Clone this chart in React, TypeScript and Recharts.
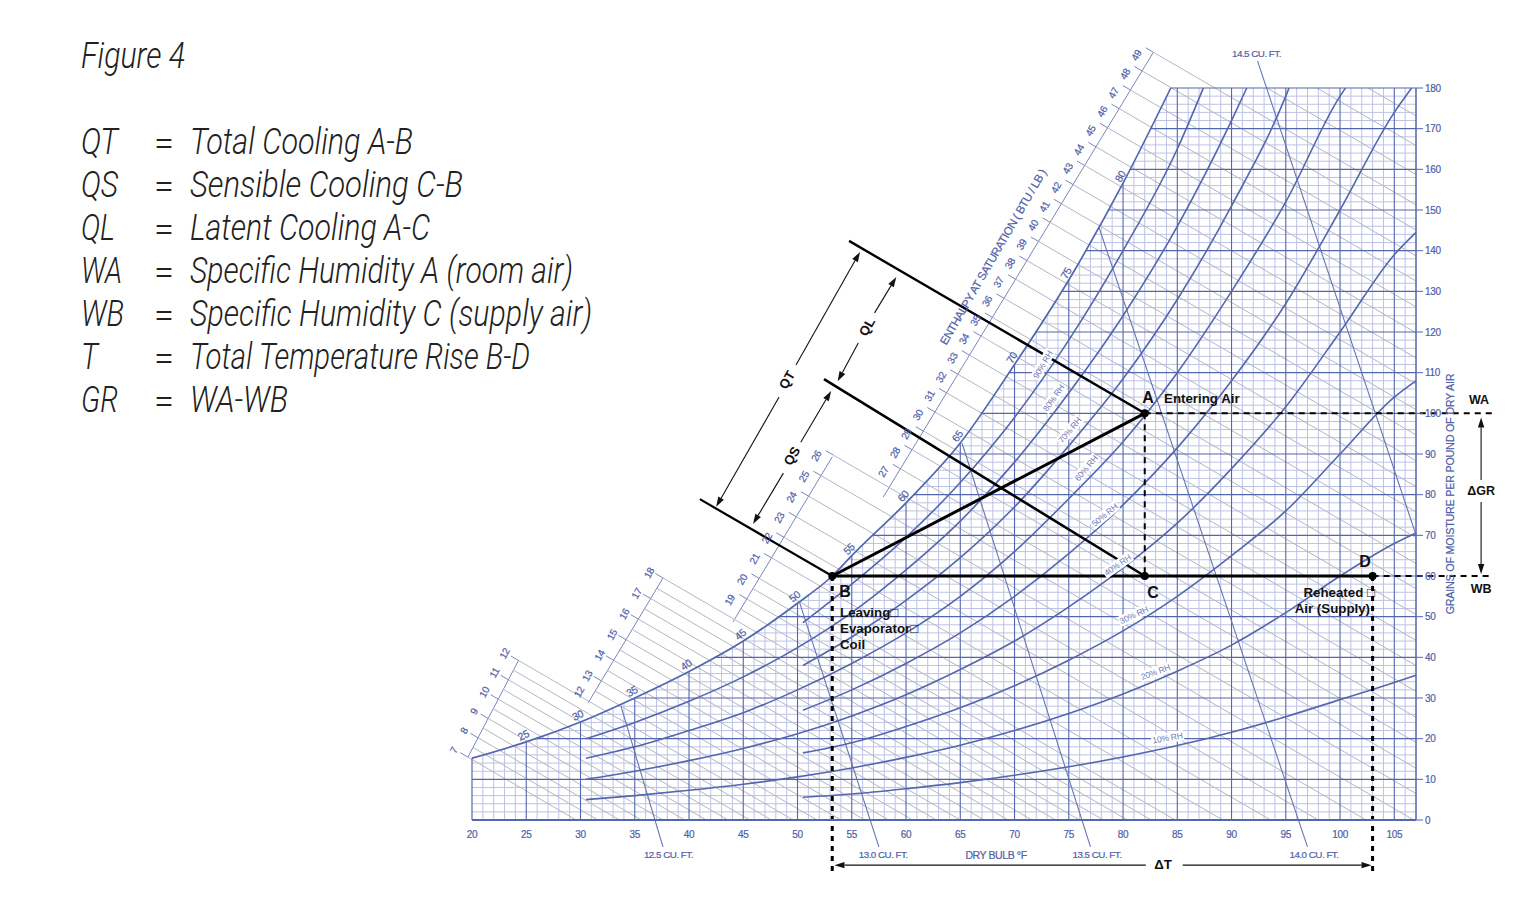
import React from "react";
import {
  Line,
  LineChart,
  ReferenceDot,
  ReferenceLine,
  XAxis,
  YAxis,
} from "recharts";

const BLUE = "#5466ae";
const TEXT_BLUE = "#4f60a8";
const MINOR = "#bcc3e6";
const GRAY = "#b4b6c4";
const SANS = "'Liberation Sans', 'DejaVu Sans', sans-serif";

// axes
const dryBulbTicks = [20, 25, 30, 35, 40, 45, 50, 55, 60, 65, 70, 75, 80, 85, 90, 95, 100, 105];
const topTicks = [85, 90, 95, 100, 105];
const grainTicks = [0, 10, 20, 30, 40, 50, 60, 70, 80, 90, 100, 110, 120, 130, 140, 150, 160, 170, 180];

// saturation curve
const satT = [20, 25, 30, 35, 40, 45, 50, 53.2, 55, 60, 65, 70, 75, 80, 84.4];
const satW = [15.2, 19.2, 24.1, 30, 36.5, 44, 53.3, 60, 65, 78, 92.7, 112, 132.8, 156.6, 180];
const satLabelT = [25, 30, 35, 40, 45, 50, 55, 60, 65, 70, 75, 80];
const satLabelAngle = [-25, -25, -30, -35, -40, -40, -45, -50, -55, -60, -60, -60];

// relative humidity curves [dry bulb, grains]
const rh90 = [[50.5, 48.5], [55, 58], [60, 69.5], [65, 83], [70, 99], [75, 118], [80, 140], [85, 165], [87.4, 180]];
const rh80 = [[30.5, 20], [35, 24], [40, 29.2], [45, 35.2], [50, 42.4], [55, 51], [60, 61.5], [65, 73.5], [70, 88], [75, 105], [80, 124], [85, 146], [90, 172], [91.4, 180]];
const rh70 = [[50.5, 38], [55, 45], [60, 54], [65, 64.5], [70, 77], [75, 92], [80, 108.5], [85, 128], [90, 151], [95, 178], [95.3, 180]];
const rh60 = [[30.5, 15.2], [35, 18], [40, 22], [45, 26.4], [50, 32], [55, 38.5], [60, 46], [65, 55], [70, 66], [75, 79], [80, 93], [85, 110], [90, 130], [95, 152], [100, 178], [100.5, 180]];
const rh50 = [[50.5, 27], [55, 32], [60, 38.5], [65, 46], [70, 55], [75, 65.5], [80, 77.5], [85, 91.5], [90, 108], [95, 127], [100, 150], [105, 174], [106.6, 180]];
const rh40 = [[30.5, 10], [35, 12], [40, 14.6], [45, 17.6], [50, 21.2], [55, 25.6], [60, 30.8], [65, 37], [70, 44], [75, 52.4], [80, 62], [85, 73], [90, 86.4], [95, 101.6], [100, 120], [105, 139], [107, 144.5]];
const rh30 = [[50.5, 16.5], [55, 19], [60, 23], [65, 27.6], [70, 33], [75, 39.3], [80, 46.5], [85, 55], [90, 65], [95, 76], [100, 90], [105, 104], [107, 108]];
const rh20 = [[30.5, 5], [35, 6], [40, 7.3], [45, 8.8], [50, 10.6], [55, 12.8], [60, 15.4], [65, 18.4], [70, 22], [75, 26.2], [80, 31], [85, 36.6], [90, 43], [95, 51], [100, 60], [105, 68], [107, 70.6]];
const rh10 = [[50.5, 5.6], [55, 6.4], [60, 7.7], [65, 9.2], [70, 11], [75, 13.1], [80, 15.5], [85, 18.3], [90, 21.6], [95, 25.4], [100, 29.6], [105, 33.8], [107, 35.6]];
const rhCurves = [rh90, rh80, rh70, rh60, rh50, rh40, rh30, rh20, rh10];

const rhLabels = ["90% RH", "80% RH", "70% RH", "60% RH", "50% RH", "40% RH", "30% RH", "20% RH", "10% RH"];
const rhLabelT = [72.6, 73.6, 75.1, 76.6, 78.3, 79.5, 81, 83, 84.1];
const rhLabelW = [112, 103.8, 95.9, 86.5, 75, 62.7, 50.4, 36.4, 20.2];
const rhLabelAngle = [-60, -55, -50, -50, -40, -35, -25, -20, -10];

// enthalpy lines: the dry bulb where each line would reach zero grains
const enthalpyValues = [7, 7.5, 8, 8.5, 9, 9.5, 10, 10.5, 11, 11.5, 12, 12.5, 13, 13.5, 14, 14.5, 15, 15.5, 16, 16.5, 17, 17.5, 18, 18.5, 19, 19.5, 20, 21, 22, 23, 24, 25, 26, 27, 28, 29, 30, 31, 32, 33, 34, 35, 36, 37, 38, 39, 40, 41, 42, 43, 44, 45, 46, 47, 48, 49];
const enthalpyFoot = [29.6, 31.6, 33.6, 35.6, 37.6, 39.6, 41.6, 43.6, 45.6, 47.6, 49.6, 51.8, 54, 56.2, 58.4, 60.6, 62.8, 65, 67.2, 69.4, 71.6, 73.8, 76, 78.2, 80.4, 82.6, 84.8, 89.2, 93.6, 98, 102.4, 106.8, 111.2, 115.2, 119.3, 123.3, 127.4, 131.5, 135.5, 139.6, 143.7, 147.7, 151.8, 155.9, 159.9, 164, 168.1, 172.1, 176.2, 180.3, 184.3, 188.4, 192.5, 196.5, 200.6, 204.6];
const unlabelledFoot = [209.4, 214, 218.7];
const ENTHALPY_SLOPE = 1.55;

// the four stretches of the enthalpy scale [last value, T from, w from, T to, w to, label dx, label dy]
const enthalpyScales = [
  [12, 19.63, 15.5, 24.3, 39.3, -14, -7],
  [18, 30.7, 28.8, 37.6, 59.5, -14, -5],
  [26, 44.05, 48.7, 53.2, 89.3, -17, 1],
  [49, 57.9, 79.4, 82.8, 188.8, -17, 3],
];

// specific volume lines [T, w, T, w]
const volumeLines = [
  [33.73, 28, 37.6, -6.6],
  [50.2, 53.4, 57.5, -6.6],
  [65.16, 92.7, 77, -6.6],
  [77.8, 145.6, 97, -6.6],
  [92.4, 186.6, 107, 70.1],
];
const volumeLabels = ["12.5 CU. FT.", "13.0 CU. FT.", "13.5 CU. FT.", "14.0 CU. FT.", "14.5 CU. FT."];
const volumeLabelT = [38.1, 57.9, 77.6, 97.6, 92.3];
const volumeLabelW = [-8.6, -8.6, -8.6, -8.6, 188.6];

// process points
const A = { x: 82, y: 100 };
const B = { x: 53.2, y: 60 };
const C = { x: 82, y: 60 };
const D = { x: 103, y: 60 };

const formulaSymbols = ["QT", "QS", "QL", "WA", "WB", "T", "GR"];
const symbolWidths = [37, 37, 34, 41, 43, 17, 37];
const formulaTexts = [
  "Total Cooling A-B",
  "Sensible Cooling C-B",
  "Latent Cooling A-C",
  "Specific Humidity A (room air)",
  "Specific Humidity C (supply air)",
  "Total Temperature Rise B-D",
  "WA-WB",
];
const textWidths = [223, 273, 240, 383, 402, 340, 98];

const tOf = (px: number) => 20 + (px - 472) / 10.85;
const wOf = (py: number) => (820 - py) / 4.067;

const toPoints = (rows: number[][]) => rows.map(([T, w]) => ({ T, w }));

const satAt = (T: number) => {
  for (let i = 1; i < satT.length; i++) {
    if (T <= satT[i]) {
      const f = (T - satT[i - 1]) / (satT[i] - satT[i - 1]);
      return satW[i - 1] + f * (satW[i] - satW[i - 1]);
    }
  }
  return 180;
};
const satInverse = (w: number) => {
  for (let i = 1; i < satW.length; i++) {
    if (w <= satW[i]) {
      const f = (w - satW[i - 1]) / (satW[i] - satW[i - 1]);
      return satT[i - 1] + f * (satT[i] - satT[i - 1]);
    }
  }
  return satT[satT.length - 1];
};

const range = (a: number, b: number, step: number) => {
  const out: number[] = [];
  for (let v = a; v <= b; v += step) out.push(v);
  return out;
};

const scaleFor = (h: number) => enthalpyScales.find((s) => h <= s[0]) as number[];
const scalePoint = (h: number, foot: number) => {
  const [, Ta, wa, Tb, wb] = scaleFor(h);
  const m = (wb - wa) / (Tb - Ta);
  const T = (ENTHALPY_SLOPE * foot - wa + m * Ta) / (m + ENTHALPY_SLOPE);
  return { x: T, y: ENTHALPY_SLOPE * (foot - T) };
};
const lineEnd = (foot: number) =>
  foot > 107 ? { x: 107, y: ENTHALPY_SLOPE * (foot - 107) } : { x: foot, y: 0 };

type NoteOpts = {
  size?: number;
  color?: string;
  weight?: number | string;
  angle?: number;
  anchor?: "start" | "middle" | "end";
  spacing?: number;
  patch?: boolean;
  dx?: number;
  dy?: number;
  stroke?: number;
};

// a piece of text pinned to a point of the chart
const note = (key: string, x: number, y: number, text: string, o: NoteOpts = {}) => (
  <ReferenceDot
    key={key}
    x={x}
    y={y}
    r={0}
    ifOverflow="visible"
    shape={(p: any) => {
      const px = p.cx + (o.dx ?? 0);
      const py = p.cy + (o.dy ?? 0);
      const w = text.length * (o.size ?? 9) * 0.52;
      const h = (o.size ?? 9) + 2;
      return (
        <g transform={`rotate(${o.angle ?? 0} ${px} ${py})`}>
          {o.patch && <rect x={px - w / 2 - 3} y={py - h / 2} width={w + 6} height={h} fill="#fff" />}
          <text
            x={px}
            y={py}
            textAnchor={o.anchor ?? "middle"}
            dominantBaseline="central"
            fontFamily={SANS}
            fontSize={o.size ?? 10}
            fontWeight={o.weight ?? "normal"}
            letterSpacing={o.spacing ?? 0}
            fill={o.color ?? TEXT_BLUE}
            stroke={o.stroke ? o.color ?? TEXT_BLUE : "none"}
            strokeWidth={o.stroke ?? 0}
          >
            {text}
          </text>
        </g>
      );
    }}
  />
);

const seg = (key: string, a: any, b: any, stroke: string, width: number, dash?: string) => (
  <ReferenceLine
    key={key}
    segment={[a, b]}
    ifOverflow="visible"
    stroke={stroke}
    strokeWidth={width}
    strokeDasharray={dash}
  />
);

const ArrowLine = (p: any) => {
  const ang = Math.atan2(p.y2 - p.y1, p.x2 - p.x1);
  const l = 10;
  const s = 3.2;
  const bx = p.x2 - l * Math.cos(ang);
  const by = p.y2 - l * Math.sin(ang);
  const nx = -Math.sin(ang) * s;
  const ny = Math.cos(ang) * s;
  return (
    <g>
      <line x1={p.x1} y1={p.y1} x2={bx} y2={by} stroke="#111" strokeWidth={1.1} />
      <polygon points={`${p.x2},${p.y2} ${bx + nx},${by + ny} ${bx - nx},${by - ny}`} fill="#111" />
    </g>
  );
};

const arrow = (key: string, a: number[], b: number[]) => (
  <ReferenceLine
    key={key}
    segment={[{ x: a[0], y: a[1] }, { x: b[0], y: b[1] }]}
    ifOverflow="visible"
    shape={ArrowLine}
  />
);

const Dot = (p: any) => <circle cx={p.cx} cy={p.cy} r={4} fill="#000" />;

const blueTick = {
  fill: TEXT_BLUE,
  fontSize: 10,
  fontFamily: SANS,
  letterSpacing: -0.3,
  stroke: TEXT_BLUE,
  strokeWidth: 0.2,
};
const blackLabel: NoteOpts = { size: 13.3, weight: "bold", color: "#111" };
const letterLabel: NoteOpts = { size: 16, weight: "bold", color: "#111" };

const App = () => {
  const minorT = range(21, 106, 1).filter((t) => t % 5 !== 0);
  const minorW = range(2, 178, 2).filter((w) => w % 10 !== 0);
  const majorT = dryBulbTicks.slice(1);
  const majorW = grainTicks.slice(1, -1);

  return (
    <div style={{ position: "absolute", left: 0, top: 0, width: 1536, height: 898, background: "#fff" }}>
      <LineChart width={1536} height={898} margin={{ left: 472, right: 80, top: 68, bottom: 48 }}>
        <XAxis
          dataKey="T"
          type="number"
          domain={[20, 107]}
          ticks={dryBulbTicks}
          interval={0}
          height={30}
          tickLine={false}
          tickMargin={5}
          axisLine={{ stroke: BLUE, strokeWidth: 2 }}
          tick={blueTick}
        />
        <XAxis
          xAxisId="top"
          orientation="top"
          type="number"
          domain={[20, 107]}
          ticks={topTicks}
          interval={0}
          height={20}
          tickLine={false}
          axisLine={false}
          tickMargin={2}
          tick={blueTick}
        />
        <YAxis
          orientation="right"
          type="number"
          domain={[0, 180]}
          ticks={grainTicks}
          interval={0}
          width={40}
          tickSize={7}
          tickMargin={2}
          axisLine={{ stroke: BLUE, strokeWidth: 1.5 }}
          tickLine={{ stroke: BLUE }}
          tick={blueTick}
        />

        {/* fine grid first, the enthalpy lines run over it */}
        {minorT.map((t) => seg(`mt-${t}`, { x: t, y: 0 }, { x: t, y: Math.min(satAt(t), 180) }, MINOR, 1))}
        {minorW.map((w) => seg(`mw-${w}`, { x: Math.max(satInverse(w), 20), y: w }, { x: 107, y: w }, MINOR, 1))}

        {/* enthalpy scale and lines */}
        {enthalpyScales.map((s, i) =>
          seg(`scale-${i}`, { x: s[1], y: s[2] }, { x: s[3], y: s[4] }, "#7a86bd", 1)
        )}
        {enthalpyValues.map((h, i) =>
          seg(`enth-${h}`, scalePoint(h, enthalpyFoot[i]), lineEnd(enthalpyFoot[i]), GRAY, 1)
        )}
        {unlabelledFoot.map((f) =>
          seg(`enth-top-${f}`, { x: f - 180 / ENTHALPY_SLOPE, y: 180 }, lineEnd(f), GRAY, 1)
        )}
        {enthalpyValues
          .filter((h) => Number.isInteger(h))
          .map((h) => {
            const foot = enthalpyFoot[enthalpyValues.indexOf(h)];
            const p = scalePoint(h, foot);
            return seg(`tick-${h}`, p, { x: p.x - 0.7, y: p.y + 0.7 * ENTHALPY_SLOPE }, "#7a86bd", 1);
          })}

        {/* heavy grid */}
        {majorT.map((t) => seg(`jt-${t}`, { x: t, y: 0 }, { x: t, y: Math.min(satAt(t), 180) }, BLUE, 1.1))}
        {majorW.map((w) => seg(`jw-${w}`, { x: Math.max(satInverse(w), 20), y: w }, { x: 107, y: w }, BLUE, 1.1))}
        {seg("left", { x: 20, y: 0 }, { x: 20, y: satW[0] }, BLUE, 1.2)}
        {seg("top", { x: 84.4, y: 180 }, { x: 107, y: 180 }, BLUE, 1.2)}

        {/* specific volume */}
        {volumeLines.map((v, i) => seg(`vol-${i}`, { x: v[0], y: v[1] }, { x: v[2], y: v[3] }, "#6674b2", 1.1))}

        {/* saturation and RH curves */}
        <Line
          data={satT.map((T, i) => ({ T, w: satW[i] }))}
          dataKey="w"
          type="monotone"
          dot={false}
          stroke={BLUE}
          strokeWidth={1.7}
          isAnimationActive={false}
        />
        {rhCurves.map((rows, i) => (
          <Line
            key={rhLabels[i]}
            data={toPoints(rows)}
            dataKey="w"
            type="monotone"
            dot={false}
            stroke={BLUE}
            strokeWidth={1.6}
            isAnimationActive={false}
          />
        ))}

        {/* blue labels */}
        {satLabelT.map((t, i) =>
          note(`sat-${t}`, t, satAt(t), String(t), { angle: satLabelAngle[i], dx: -3, dy: -7, size: 10.5, spacing: -0.3, stroke: 0.2 })
        )}
        {enthalpyValues
          .filter((h) => Number.isInteger(h))
          .map((h) => {
            const p = scalePoint(h, enthalpyFoot[enthalpyValues.indexOf(h)]);
            const s = scaleFor(h);
            return note(`h-${h}`, p.x, p.y, String(h), { angle: -60, dx: s[5], dy: s[6], size: 10, spacing: -0.3, stroke: 0.2 });
          })}
        {note("h-12b", 30.7, 28.8, "12", { angle: -60, dx: -9, dy: -11, size: 10, spacing: -0.3, stroke: 0.2 })}
        {volumeLabels.map((l, i) =>
          note(l, volumeLabelT[i], volumeLabelW[i], l, { size: 9.8, spacing: -0.5, stroke: 0.2 })
        )}
        {note("dry", tOf(996), wOf(855), "DRY BULB °F", { size: 10.5, spacing: -0.4, stroke: 0.2 })}
        {note("enthalpy", tOf(993), wOf(257), "ENTHALPY AT SATURATION ( BTU / LB )", {
          size: 11.5,
          angle: -60,
          spacing: -0.45,
          stroke: 0.2,
        })}
        {note("grains", tOf(1450), wOf(494), "GRAINS OF MOISTURE PER POUND OF DRY AIR", {
          size: 10.8,
          angle: -90,
          spacing: -0.25,
          stroke: 0.2,
        })}

        {/* process lines */}
        {seg("bd", B, D, "#000", 3)}
        {seg("ab", A, B, "#000", 3)}
        {seg("a-up", { x: 54.75, y: 142.4 }, A, "#000", 2.4)}
        {seg("c-up", { x: 52.44, y: 108.4 }, C, "#000", 2.6)}
        {seg("b-up", { x: 41, y: 78.9 }, B, "#000", 2.2)}
        {seg("a-wa", A, { x: 114.2, y: 100 }, "#000", 2, "6 5")}
        {seg("a-c", A, C, "#000", 2, "6 5")}
        {seg("d-wb", D, { x: 114, y: 60 }, "#000", 2, "6 5")}
        {seg("b-down", B, { x: B.x, y: -13.8 }, "#000", 3, "5 5")}
        {seg("d-down", D, { x: D.x, y: -13.8 }, "#000", 3, "5 5")}

        {/* RH labels over white patches */}
        {rhLabels.map((l, i) =>
          note(`rh-${l}`, rhLabelT[i], rhLabelW[i], l, {
            size: 8.5,
            angle: rhLabelAngle[i],
            patch: true,
            color: "#6c7ab8",
            spacing: -0.2,
          })
        )}

        {/* dimension arrows */}
        {arrow("qt1", [49.86, 111.9], [55.76, 139.7])}
        {arrow("qt2", [48.3, 104], [42.5, 77])}
        {arrow("ql1", [57.1, 124.7], [59.1, 133.5])}
        {arrow("ql2", [55.6, 117.3], [53.7, 107.9])}
        {arrow("qs1", [50.3, 92.9], [53.1, 105.5])}
        {arrow("qs2", [48.7, 85.3], [45.9, 72.8])}
        {arrow("gr1", [113, 83.6], [113, 99])}
        {arrow("gr2", [113, 78.2], [113, 60.5])}
        {arrow("dt1", [82.1, -11.1], [53.4, -11.1])}
        {arrow("dt2", [85.5, -11.1], [102.9, -11.1])}

        {[A, B, C, D].map((p, i) => (
          <ReferenceDot key={`pt-${i}`} x={p.x} y={p.y} r={4} ifOverflow="visible" shape={Dot} />
        ))}

        {/* black labels */}
        {note("A", tOf(1148), wOf(397), "A", letterLabel)}
        {note("B", tOf(845), wOf(591), "B", letterLabel)}
        {note("C", tOf(1153), wOf(592), "C", letterLabel)}
        {note("D", tOf(1365), wOf(561), "D", letterLabel)}
        {note("enter", tOf(1164), wOf(398), "Entering Air", { ...blackLabel, anchor: "start" })}
        {note("l1", tOf(840), wOf(612), "Leaving\u25A1", { ...blackLabel, anchor: "start" })}
        {note("l2", tOf(840), wOf(628), "Evaporator\u25A1", { ...blackLabel, anchor: "start" })}
        {note("l3", tOf(840), wOf(644), "Coil", { ...blackLabel, anchor: "start" })}
        {note("r1", tOf(1375), wOf(592), "Reheated \u25A1", { ...blackLabel, anchor: "end" })}
        {note("r2", tOf(1370), wOf(608), "Air (Supply)", { ...blackLabel, anchor: "end" })}
        {note("wa", tOf(1479), wOf(400), "WA", { ...blackLabel, size: 12.5 })}
        {note("wb", tOf(1481), wOf(589), "WB", { ...blackLabel, size: 12.5 })}
        {note("dgr", tOf(1481), wOf(491), "\u0394GR", { ...blackLabel, size: 12.5 })}
        {note("dt", tOf(1163), wOf(865), "\u0394T", blackLabel)}
        {note("qt", tOf(787), wOf(380), "QT", { ...blackLabel, angle: -60 })}
        {note("ql", tOf(867), wOf(327), "QL", { ...blackLabel, angle: -60 })}
        {note("qs", tOf(792), wOf(456), "QS", { ...blackLabel, angle: -60 })}
      </LineChart>

      <svg
        width={1536}
        height={898}
        style={{ position: "absolute", left: 0, top: 0, pointerEvents: "none" }}
        fontFamily="Roboto, sans-serif"
        fontStyle="italic"
        fontWeight={300}
        fontSize={36}
        fill="#222"
      >
        <text x={81} y={68} textLength={104} lengthAdjust="spacingAndGlyphs">
          Figure 4
        </text>
        {formulaSymbols.map((s, i) => (
          <g key={s}>
            <text x={81} y={154 + i * 43} textLength={symbolWidths[i]} lengthAdjust="spacingAndGlyphs">
              {s}
            </text>
            <text x={154} y={156 + i * 43} fontStyle="normal">
              =
            </text>
            <text x={190} y={154 + i * 43} textLength={textWidths[i]} lengthAdjust="spacingAndGlyphs">
              {formulaTexts[i]}
            </text>
          </g>
        ))}
      </svg>
    </div>
  );
};

export default App;
